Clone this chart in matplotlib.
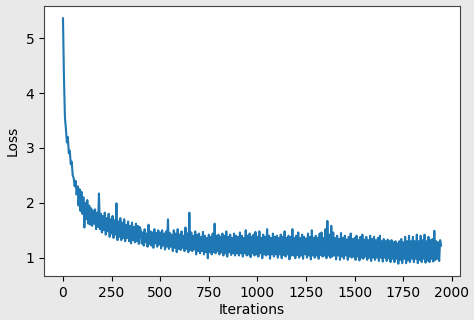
import numpy as np
from matplotlib import pyplot as plt

# loss values, one every 5 iterations
step = 5
loss = [
    5.36, 4.28, 3.55, 3.35, 3.10, 3.20, 2.90, 2.95, 2.70, 2.75, 2.50, 2.45, 2.30, 2.40, 2.15, 2.30, 1.95, 2.25, 1.85, 2.20,
    1.80, 2.10, 1.55, 2.00, 1.70, 2.05, 1.62, 1.95, 1.60, 1.90, 1.58, 1.86, 1.62, 1.88, 1.52, 1.82, 1.56, 2.17, 1.52, 1.80,
    1.46, 1.76, 1.50, 1.82, 1.42, 1.72, 1.48, 1.80, 1.38, 1.70, 1.44, 1.76, 1.36, 1.68, 1.42, 1.99, 1.32, 1.66, 1.38, 1.72,
    1.32, 1.64, 1.36, 1.70, 1.30, 1.60, 1.36, 1.66, 1.30, 1.58, 1.26, 1.64, 1.32, 1.56, 1.28, 1.62, 1.30, 1.58, 1.25, 1.56,
    1.50, 1.26, 1.46, 1.22, 1.52, 1.28, 1.44, 1.20, 1.60, 1.25, 1.48, 1.22, 1.46, 1.18, 1.52, 1.26, 1.45, 1.20, 1.50, 1.24,
    1.46, 1.17, 1.50, 1.22, 1.44, 1.15, 1.48, 1.20, 1.70, 1.16, 1.45, 1.20, 1.42, 1.12, 1.50, 1.18, 1.44, 1.10, 1.52, 1.16,
    1.42, 1.14, 1.48, 1.18, 1.40, 1.12, 1.55, 1.16, 1.44, 1.10, 1.82, 1.14, 1.46, 1.12, 1.40, 1.15, 1.48, 1.06, 1.42, 1.12,
    1.44, 1.08, 1.38, 1.12, 1.47, 1.06, 1.40, 1.10, 1.36, 0.99, 1.42, 1.10, 1.38, 1.06, 1.44, 1.10, 1.62, 1.08, 1.40, 1.12,
    1.42, 1.06, 1.38, 1.10, 1.44, 1.04, 1.40, 1.08, 1.48, 1.02, 1.38, 1.10, 1.42, 1.05, 1.36, 1.08, 1.44, 1.04, 1.40, 1.08,
    1.38, 1.04, 1.46, 1.08, 1.40, 1.02, 1.36, 1.08, 1.50, 1.04, 1.40, 1.06, 1.44, 1.01, 1.38, 1.08, 1.42, 1.04, 1.47, 1.06,
    1.38, 1.02, 1.48, 1.08, 1.36, 0.99, 1.42, 1.06, 1.38, 1.04, 1.52, 1.06, 1.40, 0.98, 1.36, 1.06, 1.44, 1.02, 1.38, 1.06,
    1.40, 1.00, 1.36, 1.06, 1.42, 0.99, 1.38, 1.05, 1.48, 1.02, 1.36, 1.06, 1.40, 0.97, 1.38, 1.04, 1.52, 1.04, 1.36, 0.99,
    1.40, 1.05, 1.46, 1.00, 1.36, 1.04, 1.42, 0.98, 1.38, 1.06, 1.35, 1.00, 1.44, 1.04, 1.38, 0.97, 1.50, 1.04, 1.36, 1.00,
    1.40, 1.04, 1.36, 0.98, 1.44, 1.05, 1.46, 1.02, 1.36, 1.04, 1.52, 0.99, 1.67, 1.04, 1.42, 1.00, 1.58, 1.02, 1.46, 1.04,
    1.36, 0.97, 1.40, 1.04, 1.34, 0.96, 1.45, 1.02, 1.36, 0.98, 1.40, 1.04, 1.33, 0.96, 1.38, 1.02, 1.44, 1.00, 1.34, 1.02,
    1.36, 0.96, 1.40, 1.02, 1.32, 0.95, 1.38, 1.00, 1.42, 0.98, 1.33, 1.02, 1.38, 0.96, 1.32, 1.00, 1.40, 0.94, 1.34, 1.00,
    1.38, 0.96, 1.32, 1.00, 1.36, 0.94, 1.40, 1.00, 1.30, 0.93, 1.34, 1.00, 1.30, 0.94, 1.33, 0.99, 1.30, 0.92, 1.32, 0.98,
    1.28, 0.92, 1.30, 0.98, 1.26, 0.89, 1.30, 0.96, 1.34, 0.90, 1.28, 0.98, 1.38, 0.90, 1.30, 0.95, 1.40, 0.92, 1.30, 0.98,
    1.38, 0.92, 1.30, 0.98, 1.42, 0.90, 1.30, 0.96, 1.40, 0.92, 1.32, 0.98, 1.42, 0.91, 1.30, 0.95, 1.38, 0.92, 1.32, 0.98,
    1.34, 0.93, 1.49, 0.96, 1.30, 0.98, 1.28, 0.94, 1.32, 1.22,
]
iterations = np.arange(len(loss)) * step

fig = plt.figure(figsize=(4.74, 3.2), dpi=100, facecolor='#e9e9e9')
ax = fig.add_axes([0.093, 0.1375, 0.8775, 0.8435])
ax.set_facecolor('white')

ax.plot(iterations, loss, color='#1f77b4', linewidth=1.5)

ax.set_xticks([0, 250, 500, 750, 1000, 1250, 1500, 1750, 2000])
ax.set_yticks([1, 2, 3, 4, 5])
ax.set_xlabel('Iterations', labelpad=2)
ax.set_ylabel('Loss', labelpad=4)

for s in ax.spines.values():
    s.set_color('#444444')

plt.savefig('out.png', dpi=100, facecolor=fig.get_facecolor())
